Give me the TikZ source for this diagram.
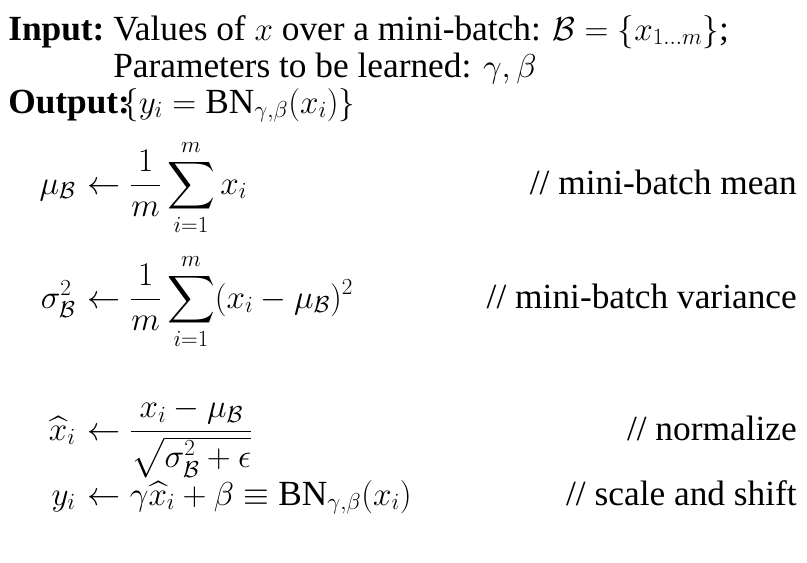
\documentclass[tikz,border=0pt]{standalone}
\usepackage{amsmath}
\usepackage{fontspec}
\setmainfont{Liberation Serif}
\begin{document}
\begin{tikzpicture}[x=0.75pt,y=-0.75pt,
  txt/.style={inner sep=0pt,font=\fontsize{26.5}{32}\selectfont},
  lhs/.style={txt,anchor=base east},
  rhs/.style={txt,anchor=base west},
  cmt/.style={txt,anchor=base east}]
\useasboundingbox (0,0) rectangle (807,562);
\node[rhs] (in) at (8,40) {\textbf{Input:}};
\node[rhs] (in2) at (113,40) {Values of $x$ over a mini-batch: $\mathcal{B}=\{x_{1\ldots m}\}$;};
\node[rhs] (par) at (113,77) {Parameters to be learned: $\gamma,\beta$};
\node[rhs] (out) at (8,113) {\textbf{Output:}};
\node[rhs] (out2) at (122,113) {$\{y_i=\mathrm{BN}_{\gamma,\beta}(x_i)\}$};
\node[lhs] (l1) at (76,194) {$\mu_{\mathcal{B}}$};
\node[rhs] (r1) at (78,194) {$\displaystyle\;\leftarrow\frac{1}{m}\sum_{i=1}^{m}x_i$};
\node[cmt] (c1) at (797,194) {// mini-batch mean};
\node[lhs] (l2) at (76,308) {$\sigma_{\mathcal{B}}^2$};
\node[rhs] (r2) at (78,308) {$\displaystyle\;\leftarrow\frac{1}{m}\sum_{i=1}^{m}(x_i-\mu_{\mathcal{B}})^2$};
\node[cmt] (c2) at (797,308) {// mini-batch variance};
\node[lhs] (l3) at (76,440) {$\widehat{x}_i$};
\node[rhs] (r3) at (78,440) {$\displaystyle\;\leftarrow\frac{x_i-\mu_{\mathcal{B}}}{\sqrt{\sigma_{\mathcal{B}}^2+\epsilon}}$};
\node[cmt] (c3) at (797,440) {// normalize};
\node[lhs] (l4) at (76,505) {$y_i$};
\node[rhs] (r4) at (78,505) {$\;\leftarrow\gamma\widehat{x}_i+\beta\equiv\mathrm{BN}_{\gamma,\beta}(x_i)$};
\node[cmt] (c4) at (797,505) {// scale and shift};
\end{tikzpicture}
\end{document}
